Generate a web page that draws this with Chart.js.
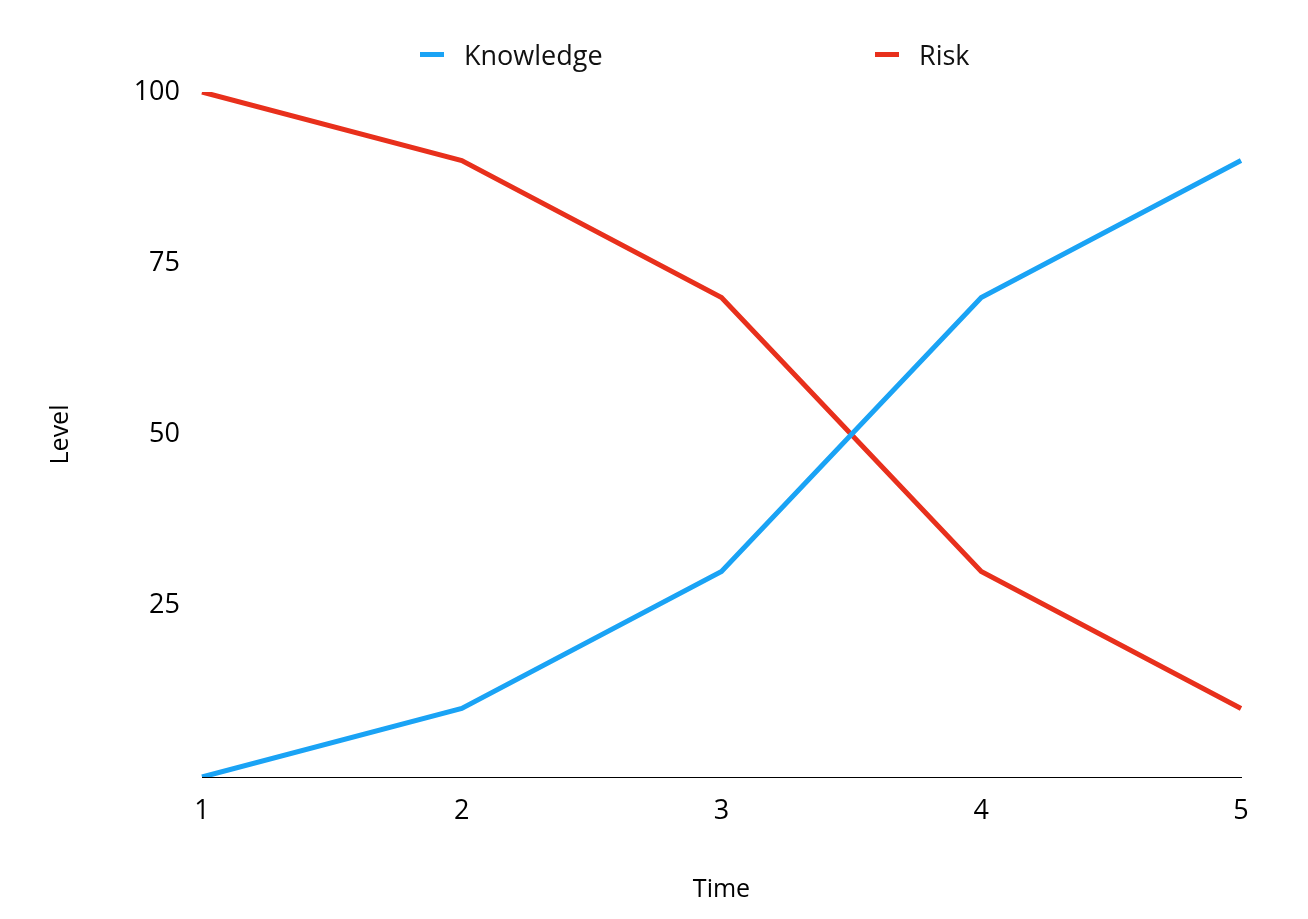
<!DOCTYPE html>
<html>
<head>
<meta charset="utf-8">
<script src="https://cdn.jsdelivr.net/npm/chart.js@4"></script>
<style>
  body { margin: 0; background: #fff; font-family: "Open Sans", sans-serif; }
  #wrap { position: relative; width: 1308px; height: 919px; }
  #legend { position: absolute; top: 36px; left: 0; width: 1308px; font-size: 27px; color: #111; }
  .item { position: absolute; display: flex; align-items: center; }
  .mark { width: 24px; height: 5px; margin-right: 20px; }
</style>
</head>
<body>
<div id="wrap">
  <canvas id="myChart" width="1308" height="919"></canvas>
  <div id="legend"></div>
</div>
<script>
// 1. Data
const timeLabels = ['1', '2', '3', '4', '5'];
const knowledge = [0, 10, 30, 70, 90];
const risk = [100, 90, 70, 30, 10];
const seriesNames = ['Knowledge', 'Risk'];
const seriesColors = ['#1aa3f5', '#e8301c'];

// 2. Legend (HTML, wide spacing like the original)
const legendX = [420, 875];
const legend = document.getElementById('legend');
seriesNames.forEach((name, i) => {
    legend.innerHTML += `<div class="item" style="left:${legendX[i]}px">
        <span class="mark" style="background:${seriesColors[i]}"></span>${name}</div>`;
});

// 3. Chart
const font = { family: '"Open Sans", sans-serif', size: 27 };
const ctx = document.getElementById('myChart').getContext('2d');
new Chart(ctx, {
    type: 'line',
    data: {
        labels: timeLabels,
        datasets: [
            { label: seriesNames[0], data: knowledge, borderColor: seriesColors[0], borderWidth: 5, pointRadius: 0, tension: 0 },
            { label: seriesNames[1], data: risk, borderColor: seriesColors[1], borderWidth: 5, pointRadius: 0, tension: 0 }
        ]
    },
    options: {
        responsive: false,
        animation: false,
        layout: { padding: { top: 92, right: 67, left: 0, bottom: 0 } },
        plugins: { legend: { display: false }, tooltip: { enabled: false } },
        scales: {
            x: {
                offset: false,
                grid: { display: false, drawTicks: false },
                border: { display: true, color: '#000', width: 1 },
                ticks: { color: '#000', font, padding: 18, maxRotation: 0 },
                title: { display: true, text: 'Time', color: '#000', font: { ...font, size: 25 }, padding: { top: 0, bottom: 14 } },
                afterFit: s => { s.height = 142; }
            },
            y: {
                min: 0, max: 100,
                grid: { display: false, drawTicks: false },
                border: { display: false },
                ticks: { stepSize: 25, color: '#000', font, padding: 22,
                         callback: v => v === 0 ? '' : v },
                title: { display: true, text: 'Level', color: '#000', font: { ...font, size: 25 }, padding: { top: 46, bottom: 0 } },
                afterFit: s => { s.width = 202; }
            }
        }
    }
});
</script>
</body>
</html>
